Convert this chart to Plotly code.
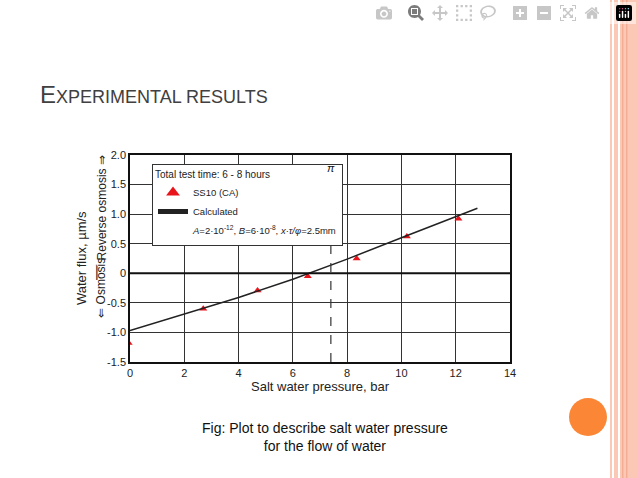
import plotly.graph_objects as go

meas_x = [-0.05, 2.7, 4.7, 6.55, 8.35, 10.2, 12.1]
meas_y = [-1.18, -0.60, -0.29, -0.05, 0.25, 0.62, 0.92]
calc_x = [0, 2, 4, 6, 8, 10, 12, 12.8]
calc_y = [-0.97, -0.69, -0.41, -0.10, 0.24, 0.60, 0.96, 1.10]
pi_x = 7.4
x_ticks = [0, 2, 4, 6, 8, 10, 12, 14]
y_ticks = [-1.5, -1.0, -0.5, 0, 0.5, 1.0, 1.5, 2.0]
y_labels = ["-1.5", "-1.0", "-0.5", "0", "0.5", "1.0", "1.5", "2.0"]

fig = go.Figure()
fig.add_trace(go.Scatter(x=meas_x, y=meas_y, mode="markers", name="SS10 (CA)",
                         marker=dict(symbol="triangle-up", color="#e8141c", size=7)))
fig.add_trace(go.Scatter(x=calc_x, y=calc_y, mode="lines", name="Calculated",
                         line=dict(color="#222", width=1.5)))
fig.add_trace(go.Scatter(x=[None], y=[None], mode="lines", line=dict(width=0),
                         name="<i>A</i>=2·10<sup>-12</sup>, <i>B</i>=6·10<sup>-8</sup>, <i>x·τ/φ</i>=2.5mm"))

fig.add_shape(type="line", x0=pi_x, x1=pi_x, y0=-1.5, y1=1.7, line=dict(color="#333", width=1.2, dash="dash"))
fig.add_shape(type="line", x0=0, x1=14, y0=0, y1=0, line=dict(color="#111", width=2))
fig.add_annotation(x=pi_x, y=1.78, text="<i>π</i>", showarrow=False, font=dict(size=11, color="#111"))

axis_common = dict(showgrid=True, gridcolor="#333", gridwidth=1, showline=True, linecolor="#111",
                   linewidth=1.5, mirror=True, zeroline=False, ticks="", tickfont=dict(size=11, color="#222", family="Arial"))
fig.update_xaxes(range=[0, 14], tickvals=x_ticks, title=dict(text="Salt water pressure, bar", font=dict(size=13, color="#222"), standoff=4), **axis_common)
fig.update_yaxes(range=[-1.5, 2.0], tickvals=y_ticks, ticktext=y_labels, **axis_common)

fig.add_annotation(xref="paper", yref="paper", x=0.112, y=0.46, text="Water flux, µm/s", textangle=-90,
                   showarrow=False, font=dict(size=13, color="#222", family="Arial"))
fig.add_annotation(xref="paper", yref="paper", x=0.145, y=0.33, text="⇐ Osmosis", textangle=-90,
                   showarrow=False, font=dict(size=12, color="#222", family="Arial"))
fig.add_annotation(xref="paper", yref="paper", x=0.145, y=0.565, text="Reverse osmosis ⇒", textangle=-90,
                   showarrow=False, font=dict(size=12, color="#222", family="Arial"))
fig.add_annotation(xref="paper", yref="paper", x=0.145, y=0.432, text="|", showarrow=False,
                   font=dict(size=14, color="#222", family="Arial"))

fig.add_annotation(xref="paper", yref="paper", x=0.06, y=0.835, xanchor="left", showarrow=False,
                   text="<span style='font-size:24px'>E</span>XPERIMENTAL RESULTS",
                   font=dict(size=18, color="#404040", family="Liberation Sans"))
fig.add_annotation(xref="paper", yref="paper", x=0.51, y=0.045, showarrow=False,
                   text="Fig: Plot to describe salt water pressure<br>for the flow of water",
                   font=dict(size=14, color="#111", family="Liberation Sans"))

fig.add_shape(type="rect", xref="paper", yref="paper", x0=610/638, x1=1, y0=0, y1=1, fillcolor="#fcc8b6", line_width=0, layer="below")
for a in [612, 618]:
    fig.add_shape(type="rect", xref="paper", yref="paper", x0=a/638, x1=(a+2)/638, y0=0, y1=1, fillcolor="white", line_width=0)
for a in [622, 626]:
    fig.add_shape(type="rect", xref="paper", yref="paper", x0=a/638, x1=(a+1.5)/638, y0=0, y1=1, fillcolor="#f4ad95", line_width=0)
fig.add_shape(type="circle", xref="paper", yref="paper", x0=569/638, x1=607/638, y0=1-436/478, y1=1-398/478,
              fillcolor="#fb8636", line_width=0)

fig.update_layout(
    width=638, height=478, paper_bgcolor="white", plot_bgcolor="white",
    margin=dict(l=0, r=0, t=0, b=0, autoexpand=False),
    xaxis=dict(domain=[130/638, 510/638]),
    yaxis=dict(domain=[1-362/478, 1-155/478]),
    font=dict(family="Arial"),
    showlegend=True,
    legend=dict(x=152/638, y=1-164/478, xanchor="left", yanchor="top", bgcolor="white", bordercolor="#333", borderwidth=1,
                title=dict(text="Total test time: 6 - 8 hours", font=dict(size=10)),
                font=dict(size=9.5, color="#222"), tracegroupgap=0, itemwidth=30, itemsizing="constant"),
)
fig.write_html("out.html", post_script="document.body.style.margin='0';")
